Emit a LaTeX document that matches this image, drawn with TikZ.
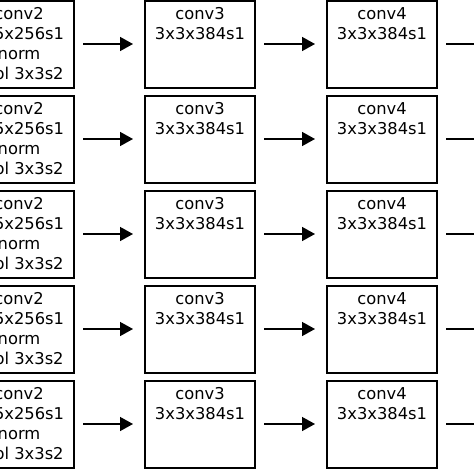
\documentclass[tikz,border=0pt]{standalone}
\usepackage{fontspec}
\setmainfont{DejaVu Sans}
\usetikzlibrary{arrows.meta,positioning}

\tikzset{
  layer/.style={draw, line width=2pt, minimum width=110pt, minimum height=87pt, inner sep=0pt},
  lbl/.style={anchor=north, align=center, inner sep=7.5pt, font=\fontsize{16.3}{20}\selectfont},
  flow/.style={-{Triangle[length=13pt,width=14pt]}, line width=1.5pt}
}

\begin{document}
\begin{tikzpicture}[x=1pt,y=-1pt]
\clip (0,0) rectangle (474,474);
% one row per copy of the net
\foreach \i [evaluate=\i as \y using 44+95*(\i-1)] in {1,...,5} {
  \node[layer, label={[lbl]north:conv2\\5x5x256s1\\norm\\pool 3x3s2}] (c2-\i) at (19,\y) {};
  \node[layer, label={[lbl]north:conv3\\3x3x384s1}] (c3-\i) at (200,\y) {};
  \node[layer, label={[lbl]north:conv4\\3x3x384s1}] (c4-\i) at (382,\y) {};
  \coordinate (n-\i) at (497,\y);
  \draw[flow, shorten <=8pt, shorten >=11pt] (c2-\i) -- (c3-\i);
  \draw[flow, shorten <=8pt, shorten >=11pt] (c3-\i) -- (c4-\i);
  \draw[flow, shorten <=8pt] (c4-\i) -- (n-\i);
}
\end{tikzpicture}
\end{document}
